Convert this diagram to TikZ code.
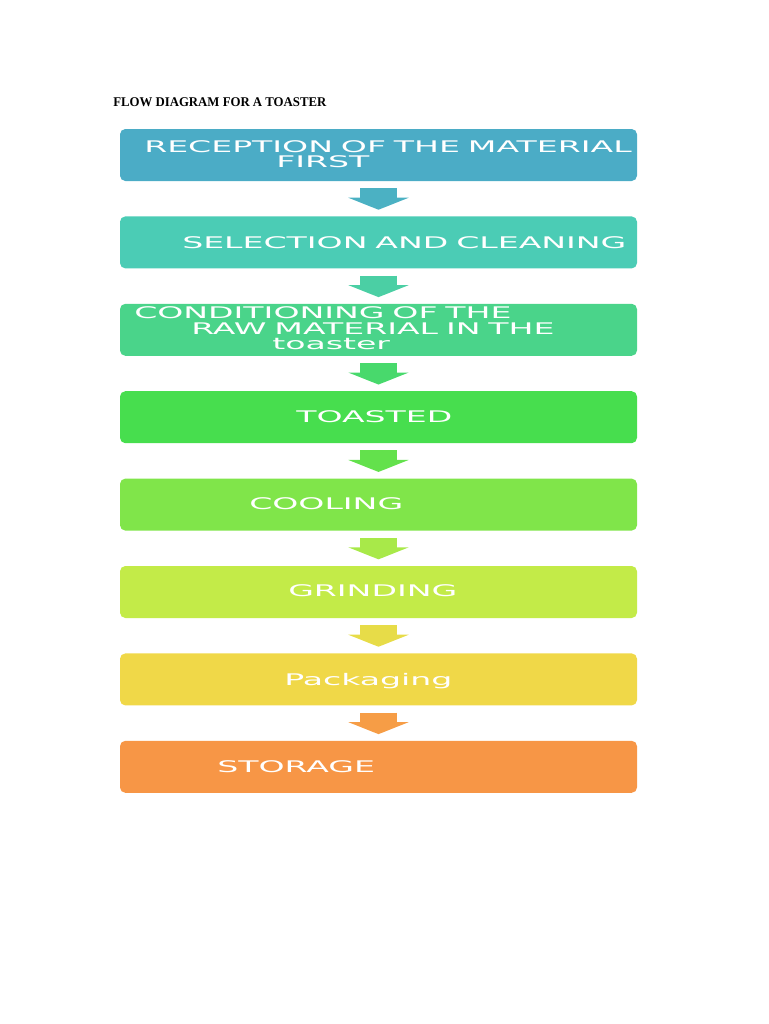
\documentclass[tikz,border=0pt]{standalone}
\usepackage{fontspec}
\usepackage{tikz}
\usetikzlibrary{arrows.meta, calc, positioning}
\usepackage{xcolor}

\newfontfamily\boxfont[FakeStretch=2.07,WordSpace=0.75]{DejaVu Sans}
\newfontfamily\titlefont[FakeStretch=0.96]{Liberation Serif}

\definecolor{receptioncol}{HTML}{4BACC6}
\definecolor{selectioncol}{HTML}{4BCCB5}
\definecolor{conditioncol}{HTML}{4AD48A}
\definecolor{toastcol}{HTML}{47DE4E}
\definecolor{coolcol}{HTML}{80E54A}
\definecolor{grindcol}{HTML}{C3EB48}
\definecolor{packcol}{HTML}{F0D848}
\definecolor{storecol}{HTML}{F79646}

\begin{document}
\begin{tikzpicture}[x=0.75pt, y=-0.75pt,
    stage/.style={rectangle, rounded corners=4pt, minimum width=387.75pt,
        minimum height=39pt, inner sep=0pt, draw=none},
    stagetext/.style={anchor=base west, inner sep=0pt, text=white,
        font=\boxfont\fontsize{12}{14}\selectfont},
    blockarrow/.style={line width=27.75pt, -{Triangle[width=45pt, length=9pt]}}]
    \useasboundingbox (0,0) rectangle (768,1024);

    % Title
    \node[anchor=base west, inner sep=0pt, font=\titlefont\bfseries\fontsize{10}{12}\selectfont]
        (title) at (113,106) {FLOW DIAGRAM FOR A TOASTER};

    % The eight stages
    \node[stage, fill=receptioncol] (reception) at (378.5,155) {};
    \node[stage, fill=selectioncol] (selection) at (378.5,242.4) {};
    \node[stage, fill=conditioncol] (conditioning) at (378.5,329.8) {};
    \node[stage, fill=toastcol] (toasted) at (378.5,417.2) {};
    \node[stage, fill=coolcol] (cooling) at (378.5,504.6) {};
    \node[stage, fill=grindcol] (grinding) at (378.5,592) {};
    \node[stage, fill=packcol] (packaging) at (378.5,679.4) {};
    \node[stage, fill=storecol] (storage) at (378.5,766.8) {};

    % Labels of the stages
    \node[stagetext] (reception-1) at (144,152) {RECEPTION OF THE MATERIAL};
    \node[stagetext] (reception-2) at (276,167) {FIRST};
    \node[stagetext] (selection-1) at (182,248) {SELECTION AND CLEANING};
    \node[stagetext] (conditioning-1) at (134,318) {CONDITIONING OF THE};
    \node[stagetext] (conditioning-2) at (191,334) {RAW MATERIAL IN THE};
    \node[stagetext] (conditioning-3) at (272,349) {toaster};
    \node[stagetext] (toasted-1) at (296,422) {TOASTED};
    \node[stagetext] (cooling-1) at (249,509) {COOLING};
    \node[stagetext] (grinding-1) at (288,596) {GRINDING};
    \node[stagetext] (packaging-1) at (284,685) {Packaging};
    \node[stagetext] (storage-1) at (217,772) {STORAGE};

    % Arrows between the stages
    \draw[blockarrow, receptioncol!85!selectioncol] ([yshift=-5.25pt]reception.south) -- ([yshift=4.8pt]selection.north);
    \draw[blockarrow, selectioncol!60!conditioncol] ([yshift=-5.25pt]selection.south) -- ([yshift=4.8pt]conditioning.north);
    \draw[blockarrow, conditioncol!50!toastcol] ([yshift=-5.25pt]conditioning.south) -- ([yshift=4.8pt]toasted.north);
    \draw[blockarrow, toastcol!50!coolcol] ([yshift=-5.25pt]toasted.south) -- ([yshift=4.8pt]cooling.north);
    \draw[blockarrow, coolcol!40!grindcol] ([yshift=-5.25pt]cooling.south) -- ([yshift=4.8pt]grinding.north);
    \draw[blockarrow, grindcol!20!packcol] ([yshift=-5.25pt]grinding.south) -- ([yshift=4.8pt]packaging.north);
    \draw[blockarrow, packcol!10!storecol] ([yshift=-5.25pt]packaging.south) -- ([yshift=4.8pt]storage.north);
\end{tikzpicture}
\end{document}
